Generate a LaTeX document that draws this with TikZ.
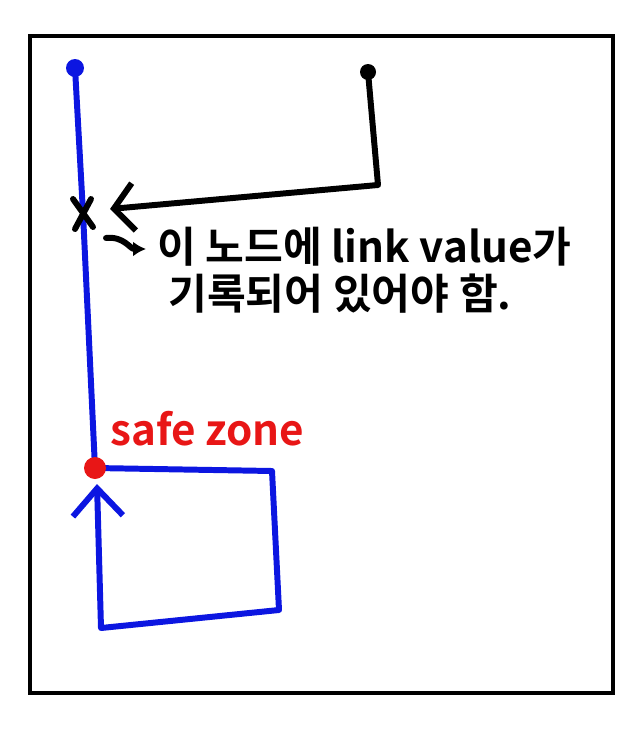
\documentclass[tikz,border=0pt]{standalone}
\usepackage{fontspec}
\newfontfamily\kofont{Noto Sans CJK KR}[BoldFont={Noto Sans CJK KR Bold}]
\usetikzlibrary{arrows.meta}
\usetikzlibrary{calc}
\definecolor{penblue}{RGB}{12,22,225}
\definecolor{penred}{RGB}{232,22,22}
\tikzset{
  pen/.style={line width=3.4pt, line cap=round, line join=round},
  frame/.style={line width=2.2pt},
  note/.style={anchor=west, inner sep=0pt, font=\kofont\fontsize{24}{28}\selectfont},
}
\begin{document}
\begin{tikzpicture}[x=0.02cm, y=-0.02cm]
                \useasboundingbox (0,0) rectangle (644,730);
                \coordinate (F1) at (30,36);
                \coordinate (F2) at (613,693);

                \coordinate (Btop) at (75,68);
                \coordinate (Bx) at (83,213);
                \coordinate (S) at (95,468);
                \coordinate (R1) at (272,471);
                \coordinate (R2) at (279,610);
                \coordinate (R3) at (101,628);
                \coordinate (R4) at (97,484);

                \coordinate (Ktop) at (368,72);
                \coordinate (K1) at (378,185);
                \coordinate (K2) at (110,209);

                \coordinate (C1) at (106,238);
                \coordinate (C2) at (146,249);

                \draw[frame] (F1) rectangle (F2);

                % blue list
                \draw[pen, penblue] (Btop) -- (Bx) -- (S);
                \fill[penblue] (Btop) circle (9);
                \draw[pen, penblue, -{Straight Barb[length=0.55cm, width=1cm]}]
                    (S) -- (R1) -- (R2) -- (R3) -- (R4);
                \fill[penred] (S) circle (11);
                \node[anchor=south west, inner sep=0pt, text=penred,
                      font=\kofont\bfseries\fontsize{24}{28}\selectfont] (safe) at (110,446) {safe zone};

                % black link
                \fill (Ktop) circle (8);
                \draw[pen, -{Straight Barb[length=0.4cm, width=0.95cm]}] (Ktop) -- (K1) -- (K2);
                \draw[pen] ($(Bx)+(-10,-14)$) -- ($(Bx)+(10,14)$)
                           ($(Bx)+(8,-14)$) -- ($(Bx)+(-8,16)$);
                \draw[pen, -{Latex[length=2.6mm, width=3mm]}]
                    (C1) .. controls (124,236) and (130,249) .. (C2);

                \node[note] (line1) at (157,247) {\bfseries 이 노드에 link value가};
                \node[note] (line2) at (168,294) {\bfseries 기록되어 있어야 함.};
            \end{tikzpicture}
\end{document}
